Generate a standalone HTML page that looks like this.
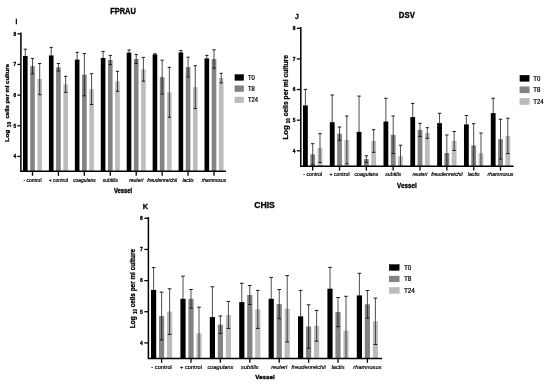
<!DOCTYPE html>
<html><head><meta charset="utf-8"><title>Figure</title>
<style>
html,body{margin:0;padding:0;background:#fff;}
body{width:550px;height:384px;overflow:hidden;}
svg{display:block;font-family:"Liberation Sans",sans-serif;}
.b{font-weight:bold;stroke:#000;stroke-width:0.3px;}
.x{fill:#000;stroke:#000;stroke-width:0.2px;}
.l{fill:#000;stroke:#000;stroke-width:0.22px;}
</style></head><body>
<svg width="550" height="384" viewBox="0 0 550 384">
<defs><filter id="bl" x="0" y="0" width="550" height="384" filterUnits="userSpaceOnUse"><feGaussianBlur stdDeviation="0.38"/></filter></defs>
<rect width="550" height="384" fill="#fff"/>
<g filter="url(#bl)">
<g>
<rect x="23.00" y="56.00" width="4.6" height="115.30" fill="#000"/>
<rect x="30.20" y="66.10" width="4.6" height="105.20" fill="#838383"/>
<rect x="37.40" y="79.10" width="4.6" height="92.20" fill="#bcbcbc"/>
<rect x="48.93" y="55.40" width="4.6" height="115.90" fill="#000"/>
<rect x="56.13" y="67.30" width="4.6" height="104.00" fill="#838383"/>
<rect x="63.33" y="84.30" width="4.6" height="87.00" fill="#bcbcbc"/>
<rect x="74.86" y="59.60" width="4.6" height="111.70" fill="#000"/>
<rect x="82.06" y="74.70" width="4.6" height="96.60" fill="#838383"/>
<rect x="89.26" y="89.10" width="4.6" height="82.20" fill="#bcbcbc"/>
<rect x="100.79" y="58.00" width="4.6" height="113.30" fill="#000"/>
<rect x="107.99" y="60.00" width="4.6" height="111.30" fill="#838383"/>
<rect x="115.19" y="81.30" width="4.6" height="90.00" fill="#bcbcbc"/>
<rect x="126.72" y="52.60" width="4.6" height="118.70" fill="#000"/>
<rect x="133.92" y="59.00" width="4.6" height="112.30" fill="#838383"/>
<rect x="141.12" y="69.30" width="4.6" height="102.00" fill="#bcbcbc"/>
<rect x="152.65" y="54.40" width="4.6" height="116.90" fill="#000"/>
<rect x="159.85" y="77.10" width="4.6" height="94.20" fill="#838383"/>
<rect x="167.05" y="92.30" width="4.6" height="79.00" fill="#bcbcbc"/>
<rect x="178.58" y="52.40" width="4.6" height="118.90" fill="#000"/>
<rect x="185.78" y="67.10" width="4.6" height="104.20" fill="#838383"/>
<rect x="192.98" y="87.10" width="4.6" height="84.20" fill="#bcbcbc"/>
<rect x="204.51" y="58.40" width="4.6" height="112.90" fill="#000"/>
<rect x="211.71" y="59.00" width="4.6" height="112.30" fill="#838383"/>
<rect x="218.91" y="78.10" width="4.6" height="93.20" fill="#bcbcbc"/>
<path d="M25.30 49.20V56.30" stroke="#1a1a1a" stroke-width="0.78" fill="none"/>
<path d="M23.69 49.20H26.91" stroke="#1a1a1a" stroke-width="1.0" fill="none"/>
<path d="M32.50 58.40V73.80" stroke="#1a1a1a" stroke-width="0.78" fill="none"/>
<path d="M30.89 58.40H34.11M30.89 73.80H34.11" stroke="#1a1a1a" stroke-width="1.0" fill="none"/>
<path d="M39.70 63.50V94.70" stroke="#1a1a1a" stroke-width="0.78" fill="none"/>
<path d="M38.09 63.50H41.31M38.09 94.70H41.31" stroke="#1a1a1a" stroke-width="1.0" fill="none"/>
<path d="M51.23 47.40V55.70" stroke="#1a1a1a" stroke-width="0.78" fill="none"/>
<path d="M49.62 47.40H52.84" stroke="#1a1a1a" stroke-width="1.0" fill="none"/>
<path d="M58.43 63.50V71.10" stroke="#1a1a1a" stroke-width="0.78" fill="none"/>
<path d="M56.82 63.50H60.04M56.82 71.10H60.04" stroke="#1a1a1a" stroke-width="1.0" fill="none"/>
<path d="M65.63 76.30V92.30" stroke="#1a1a1a" stroke-width="0.78" fill="none"/>
<path d="M64.02 76.30H67.24M64.02 92.30H67.24" stroke="#1a1a1a" stroke-width="1.0" fill="none"/>
<path d="M77.16 52.40V59.90" stroke="#1a1a1a" stroke-width="0.78" fill="none"/>
<path d="M75.55 52.40H78.77" stroke="#1a1a1a" stroke-width="1.0" fill="none"/>
<path d="M84.36 53.60V95.80" stroke="#1a1a1a" stroke-width="0.78" fill="none"/>
<path d="M82.75 53.60H85.97M82.75 95.80H85.97" stroke="#1a1a1a" stroke-width="1.0" fill="none"/>
<path d="M91.56 73.70V104.50" stroke="#1a1a1a" stroke-width="0.78" fill="none"/>
<path d="M89.95 73.70H93.17M89.95 104.50H93.17" stroke="#1a1a1a" stroke-width="1.0" fill="none"/>
<path d="M103.09 51.40V58.30" stroke="#1a1a1a" stroke-width="0.78" fill="none"/>
<path d="M101.48 51.40H104.70" stroke="#1a1a1a" stroke-width="1.0" fill="none"/>
<path d="M110.29 55.40V64.60" stroke="#1a1a1a" stroke-width="0.78" fill="none"/>
<path d="M108.68 55.40H111.90M108.68 64.60H111.90" stroke="#1a1a1a" stroke-width="1.0" fill="none"/>
<path d="M117.49 71.30V91.30" stroke="#1a1a1a" stroke-width="0.78" fill="none"/>
<path d="M115.88 71.30H119.10M115.88 91.30H119.10" stroke="#1a1a1a" stroke-width="1.0" fill="none"/>
<path d="M129.02 50.00V52.90" stroke="#1a1a1a" stroke-width="0.78" fill="none"/>
<path d="M127.41 50.00H130.63" stroke="#1a1a1a" stroke-width="1.0" fill="none"/>
<path d="M136.22 54.60V63.40" stroke="#1a1a1a" stroke-width="0.78" fill="none"/>
<path d="M134.61 54.60H137.83M134.61 63.40H137.83" stroke="#1a1a1a" stroke-width="1.0" fill="none"/>
<path d="M143.42 57.40V81.20" stroke="#1a1a1a" stroke-width="0.78" fill="none"/>
<path d="M141.81 57.40H145.03M141.81 81.20H145.03" stroke="#1a1a1a" stroke-width="1.0" fill="none"/>
<path d="M154.95 53.80V54.70" stroke="#1a1a1a" stroke-width="0.78" fill="none"/>
<path d="M153.34 53.80H156.56" stroke="#1a1a1a" stroke-width="1.0" fill="none"/>
<path d="M162.15 60.20V94.00" stroke="#1a1a1a" stroke-width="0.78" fill="none"/>
<path d="M160.54 60.20H163.76M160.54 94.00H163.76" stroke="#1a1a1a" stroke-width="1.0" fill="none"/>
<path d="M169.35 67.30V117.30" stroke="#1a1a1a" stroke-width="0.78" fill="none"/>
<path d="M167.74 67.30H170.96M167.74 117.30H170.96" stroke="#1a1a1a" stroke-width="1.0" fill="none"/>
<path d="M180.88 50.60V52.70" stroke="#1a1a1a" stroke-width="0.78" fill="none"/>
<path d="M179.27 50.60H182.49" stroke="#1a1a1a" stroke-width="1.0" fill="none"/>
<path d="M188.08 57.20V77.00" stroke="#1a1a1a" stroke-width="0.78" fill="none"/>
<path d="M186.47 57.20H189.69M186.47 77.00H189.69" stroke="#1a1a1a" stroke-width="1.0" fill="none"/>
<path d="M195.28 65.70V108.50" stroke="#1a1a1a" stroke-width="0.78" fill="none"/>
<path d="M193.67 65.70H196.89M193.67 108.50H196.89" stroke="#1a1a1a" stroke-width="1.0" fill="none"/>
<path d="M206.81 55.40V58.70" stroke="#1a1a1a" stroke-width="0.78" fill="none"/>
<path d="M205.20 55.40H208.42" stroke="#1a1a1a" stroke-width="1.0" fill="none"/>
<path d="M214.01 49.80V68.20" stroke="#1a1a1a" stroke-width="0.78" fill="none"/>
<path d="M212.40 49.80H215.62M212.40 68.20H215.62" stroke="#1a1a1a" stroke-width="1.0" fill="none"/>
<path d="M221.21 73.30V82.90" stroke="#1a1a1a" stroke-width="0.78" fill="none"/>
<path d="M219.60 73.30H222.82M219.60 82.90H222.82" stroke="#1a1a1a" stroke-width="1.0" fill="none"/>
<path d="M20.9 33.30V171.3H225.2" stroke="#000" stroke-width="1.5" fill="none" stroke-linecap="square"/>
<path d="M17.40 156.40H20.9" stroke="#000" stroke-width="1.3"/>
<text transform="translate(16.20 158.28) scale(1 1.11)" font-size="4.7" text-anchor="end" class="b">4</text>
<path d="M17.40 125.75H20.9" stroke="#000" stroke-width="1.3"/>
<text transform="translate(16.20 127.63) scale(1 1.11)" font-size="4.7" text-anchor="end" class="b">5</text>
<path d="M17.40 95.10H20.9" stroke="#000" stroke-width="1.3"/>
<text transform="translate(16.20 96.98) scale(1 1.11)" font-size="4.7" text-anchor="end" class="b">6</text>
<path d="M17.40 64.45H20.9" stroke="#000" stroke-width="1.3"/>
<text transform="translate(16.20 66.33) scale(1 1.11)" font-size="4.7" text-anchor="end" class="b">7</text>
<path d="M17.40 33.80H20.9" stroke="#000" stroke-width="1.3"/>
<text transform="translate(16.20 35.68) scale(1 1.11)" font-size="4.7" text-anchor="end" class="b">8</text>
<path d="M32.50 171.3V175.8" stroke="#000" stroke-width="1.3"/>
<text transform="translate(32.50 182.30) scale(1 1.11)" font-size="5.0" text-anchor="middle" class="x">- control</text>
<path d="M58.43 171.3V175.8" stroke="#000" stroke-width="1.3"/>
<text transform="translate(58.43 182.30) scale(1 1.11)" font-size="5.0" text-anchor="middle" class="x">+ control</text>
<path d="M84.36 171.3V175.8" stroke="#000" stroke-width="1.3"/>
<text transform="translate(84.36 182.30) scale(1 1.11)" font-size="5.0" text-anchor="middle" class="x" font-style="italic">coagulans</text>
<path d="M110.29 171.3V175.8" stroke="#000" stroke-width="1.3"/>
<text transform="translate(110.29 182.30) scale(1 1.11)" font-size="5.0" text-anchor="middle" class="x" font-style="italic">subtilis</text>
<path d="M136.22 171.3V175.8" stroke="#000" stroke-width="1.3"/>
<text transform="translate(136.22 182.30) scale(1 1.11)" font-size="5.0" text-anchor="middle" class="x" font-style="italic">reuteri</text>
<path d="M162.15 171.3V175.8" stroke="#000" stroke-width="1.3"/>
<text transform="translate(162.15 182.30) scale(1 1.11)" font-size="5.0" text-anchor="middle" class="x" font-style="italic">freudenreichii</text>
<path d="M188.08 171.3V175.8" stroke="#000" stroke-width="1.3"/>
<text transform="translate(188.08 182.30) scale(1 1.11)" font-size="5.0" text-anchor="middle" class="x" font-style="italic">lactis</text>
<path d="M214.01 171.3V175.8" stroke="#000" stroke-width="1.3"/>
<text transform="translate(214.01 182.30) scale(1 1.11)" font-size="5.0" text-anchor="middle" class="x" font-style="italic">rhamnosus</text>
<text transform="translate(123.05 192.50) scale(1 1.11)" font-size="5.85" text-anchor="middle" class="b">Vessel</text>
<text transform="translate(123.05 13.60) scale(1 1.11)" font-size="7.46" text-anchor="middle" class="b">FPRAU</text>
<text transform="translate(15.60 24.30) scale(1 1.11)" font-size="6.6" class="b">I</text>
<text transform="translate(8.60 142.00) rotate(-90) scale(1 0.9091)" font-size="6.30" class="b" textLength="12.50" lengthAdjust="spacingAndGlyphs">Log</text>
<text transform="translate(10.50 127.30) rotate(-90) scale(1 0.9091)" font-size="5.04" class="b" textLength="5.40" lengthAdjust="spacingAndGlyphs">10</text>
<text transform="translate(8.60 118.50) rotate(-90) scale(1 0.9091)" font-size="6.30" class="b" textLength="54.50" lengthAdjust="spacingAndGlyphs">cells per ml culture</text>
<rect x="234.95" y="74.65" width="8.7" height="5.6" fill="#000" stroke="#000" stroke-width="0.5"/>
<text transform="translate(248.00 79.79) scale(1 1.11)" font-size="5.85" class="l">T0</text>
<rect x="234.95" y="85.85" width="8.7" height="5.6" fill="#838383" stroke="#6e6e6e" stroke-width="0.5"/>
<text transform="translate(248.00 90.99) scale(1 1.11)" font-size="5.85" class="l">T8</text>
<rect x="234.95" y="97.05" width="8.7" height="5.6" fill="#bcbcbc" stroke="#b0b0b0" stroke-width="0.5"/>
<text transform="translate(248.00 102.19) scale(1 1.11)" font-size="5.85" class="l">T24</text>
</g>
<g>
<rect x="303.00" y="105.40" width="4.8" height="60.90" fill="#000"/>
<rect x="310.30" y="154.30" width="4.8" height="12.00" fill="#838383"/>
<rect x="317.60" y="148.10" width="4.8" height="18.20" fill="#bcbcbc"/>
<rect x="329.83" y="122.20" width="4.8" height="44.10" fill="#000"/>
<rect x="337.13" y="133.70" width="4.8" height="32.60" fill="#838383"/>
<rect x="344.43" y="139.90" width="4.8" height="26.40" fill="#bcbcbc"/>
<rect x="356.66" y="131.90" width="4.8" height="34.40" fill="#000"/>
<rect x="363.96" y="159.10" width="4.8" height="7.20" fill="#838383"/>
<rect x="371.26" y="141.00" width="4.8" height="25.30" fill="#bcbcbc"/>
<rect x="383.49" y="121.50" width="4.8" height="44.80" fill="#000"/>
<rect x="390.79" y="134.80" width="4.8" height="31.50" fill="#838383"/>
<rect x="398.09" y="156.30" width="4.8" height="10.00" fill="#bcbcbc"/>
<rect x="410.32" y="117.10" width="4.8" height="49.20" fill="#000"/>
<rect x="417.62" y="129.90" width="4.8" height="36.40" fill="#838383"/>
<rect x="424.92" y="133.00" width="4.8" height="33.30" fill="#bcbcbc"/>
<rect x="437.15" y="123.10" width="4.8" height="43.20" fill="#000"/>
<rect x="444.45" y="153.00" width="4.8" height="13.30" fill="#838383"/>
<rect x="451.75" y="141.00" width="4.8" height="25.30" fill="#bcbcbc"/>
<rect x="463.98" y="124.40" width="4.8" height="41.90" fill="#000"/>
<rect x="471.28" y="145.40" width="4.8" height="20.90" fill="#838383"/>
<rect x="478.58" y="153.20" width="4.8" height="13.10" fill="#bcbcbc"/>
<rect x="490.81" y="113.10" width="4.8" height="53.20" fill="#000"/>
<rect x="498.11" y="139.20" width="4.8" height="27.10" fill="#838383"/>
<rect x="505.41" y="135.90" width="4.8" height="30.40" fill="#bcbcbc"/>
<path d="M305.40 89.40V105.70" stroke="#1a1a1a" stroke-width="0.78" fill="none"/>
<path d="M303.72 89.40H307.08" stroke="#1a1a1a" stroke-width="1.0" fill="none"/>
<path d="M312.70 143.70V164.90" stroke="#1a1a1a" stroke-width="0.78" fill="none"/>
<path d="M311.02 143.70H314.38M311.02 164.90H314.38" stroke="#1a1a1a" stroke-width="1.0" fill="none"/>
<path d="M320.00 133.70V162.50" stroke="#1a1a1a" stroke-width="0.78" fill="none"/>
<path d="M318.32 133.70H321.68M318.32 162.50H321.68" stroke="#1a1a1a" stroke-width="1.0" fill="none"/>
<path d="M332.23 95.00V122.50" stroke="#1a1a1a" stroke-width="0.78" fill="none"/>
<path d="M330.55 95.00H333.91" stroke="#1a1a1a" stroke-width="1.0" fill="none"/>
<path d="M339.53 127.00V140.40" stroke="#1a1a1a" stroke-width="0.78" fill="none"/>
<path d="M337.85 127.00H341.21M337.85 140.40H341.21" stroke="#1a1a1a" stroke-width="1.0" fill="none"/>
<path d="M346.83 116.00V163.80" stroke="#1a1a1a" stroke-width="0.78" fill="none"/>
<path d="M345.15 116.00H348.51M345.15 163.80H348.51" stroke="#1a1a1a" stroke-width="1.0" fill="none"/>
<path d="M359.06 96.10V132.20" stroke="#1a1a1a" stroke-width="0.78" fill="none"/>
<path d="M357.38 96.10H360.74" stroke="#1a1a1a" stroke-width="1.0" fill="none"/>
<path d="M366.36 155.80V162.40" stroke="#1a1a1a" stroke-width="0.78" fill="none"/>
<path d="M364.68 155.80H368.04M364.68 162.40H368.04" stroke="#1a1a1a" stroke-width="1.0" fill="none"/>
<path d="M373.66 129.70V152.30" stroke="#1a1a1a" stroke-width="0.78" fill="none"/>
<path d="M371.98 129.70H375.34M371.98 152.30H375.34" stroke="#1a1a1a" stroke-width="1.0" fill="none"/>
<path d="M385.89 98.30V121.80" stroke="#1a1a1a" stroke-width="0.78" fill="none"/>
<path d="M384.21 98.30H387.57" stroke="#1a1a1a" stroke-width="1.0" fill="none"/>
<path d="M393.19 116.00V153.60" stroke="#1a1a1a" stroke-width="0.78" fill="none"/>
<path d="M391.51 116.00H394.87M391.51 153.60H394.87" stroke="#1a1a1a" stroke-width="1.0" fill="none"/>
<path d="M400.49 145.20V166.30" stroke="#1a1a1a" stroke-width="0.78" fill="none"/>
<path d="M398.81 145.20H402.17" stroke="#1a1a1a" stroke-width="1.0" fill="none"/>
<path d="M412.72 103.40V117.40" stroke="#1a1a1a" stroke-width="0.78" fill="none"/>
<path d="M411.04 103.40H414.40" stroke="#1a1a1a" stroke-width="1.0" fill="none"/>
<path d="M420.02 123.30V136.50" stroke="#1a1a1a" stroke-width="0.78" fill="none"/>
<path d="M418.34 123.30H421.70M418.34 136.50H421.70" stroke="#1a1a1a" stroke-width="1.0" fill="none"/>
<path d="M427.32 127.70V138.30" stroke="#1a1a1a" stroke-width="0.78" fill="none"/>
<path d="M425.64 127.70H429.00M425.64 138.30H429.00" stroke="#1a1a1a" stroke-width="1.0" fill="none"/>
<path d="M439.55 113.30V123.40" stroke="#1a1a1a" stroke-width="0.78" fill="none"/>
<path d="M437.87 113.30H441.23" stroke="#1a1a1a" stroke-width="1.0" fill="none"/>
<path d="M446.85 135.00V166.30" stroke="#1a1a1a" stroke-width="0.78" fill="none"/>
<path d="M445.17 135.00H448.53" stroke="#1a1a1a" stroke-width="1.0" fill="none"/>
<path d="M454.15 131.50V150.50" stroke="#1a1a1a" stroke-width="0.78" fill="none"/>
<path d="M452.47 131.50H455.83M452.47 150.50H455.83" stroke="#1a1a1a" stroke-width="1.0" fill="none"/>
<path d="M466.38 115.50V124.70" stroke="#1a1a1a" stroke-width="0.78" fill="none"/>
<path d="M464.70 115.50H468.06" stroke="#1a1a1a" stroke-width="1.0" fill="none"/>
<path d="M473.68 123.70V166.30" stroke="#1a1a1a" stroke-width="0.78" fill="none"/>
<path d="M472.00 123.70H475.36" stroke="#1a1a1a" stroke-width="1.0" fill="none"/>
<path d="M480.98 133.00V166.30" stroke="#1a1a1a" stroke-width="0.78" fill="none"/>
<path d="M479.30 133.00H482.66" stroke="#1a1a1a" stroke-width="1.0" fill="none"/>
<path d="M493.21 98.30V113.40" stroke="#1a1a1a" stroke-width="0.78" fill="none"/>
<path d="M491.53 98.30H494.89" stroke="#1a1a1a" stroke-width="1.0" fill="none"/>
<path d="M500.51 119.30V159.10" stroke="#1a1a1a" stroke-width="0.78" fill="none"/>
<path d="M498.83 119.30H502.19M498.83 159.10H502.19" stroke="#1a1a1a" stroke-width="1.0" fill="none"/>
<path d="M507.81 118.20V153.60" stroke="#1a1a1a" stroke-width="0.78" fill="none"/>
<path d="M506.13 118.20H509.49M506.13 153.60H509.49" stroke="#1a1a1a" stroke-width="1.0" fill="none"/>
<path d="M300.8 27.80V166.3H512.9" stroke="#000" stroke-width="1.5" fill="none" stroke-linecap="square"/>
<path d="M296.80 150.78H300.8" stroke="#000" stroke-width="1.3"/>
<text transform="translate(295.30 152.64) scale(1 1.076)" font-size="4.8" text-anchor="end" class="b">4</text>
<path d="M296.80 120.16H300.8" stroke="#000" stroke-width="1.3"/>
<text transform="translate(295.30 122.02) scale(1 1.076)" font-size="4.8" text-anchor="end" class="b">5</text>
<path d="M296.80 89.54H300.8" stroke="#000" stroke-width="1.3"/>
<text transform="translate(295.30 91.40) scale(1 1.076)" font-size="4.8" text-anchor="end" class="b">6</text>
<path d="M296.80 58.92H300.8" stroke="#000" stroke-width="1.3"/>
<text transform="translate(295.30 60.78) scale(1 1.076)" font-size="4.8" text-anchor="end" class="b">7</text>
<path d="M296.80 28.30H300.8" stroke="#000" stroke-width="1.3"/>
<text transform="translate(295.30 30.16) scale(1 1.076)" font-size="4.8" text-anchor="end" class="b">8</text>
<path d="M312.70 166.3V170.6" stroke="#000" stroke-width="1.3"/>
<text transform="translate(312.70 176.30) scale(1 1.076)" font-size="5.25" text-anchor="middle" class="x">- control</text>
<path d="M339.53 166.3V170.6" stroke="#000" stroke-width="1.3"/>
<text transform="translate(339.53 176.30) scale(1 1.076)" font-size="5.25" text-anchor="middle" class="x">+ control</text>
<path d="M366.36 166.3V170.6" stroke="#000" stroke-width="1.3"/>
<text transform="translate(366.36 176.30) scale(1 1.076)" font-size="5.25" text-anchor="middle" class="x" font-style="italic">coagulans</text>
<path d="M393.19 166.3V170.6" stroke="#000" stroke-width="1.3"/>
<text transform="translate(393.19 176.30) scale(1 1.076)" font-size="5.25" text-anchor="middle" class="x" font-style="italic">subtilis</text>
<path d="M420.02 166.3V170.6" stroke="#000" stroke-width="1.3"/>
<text transform="translate(420.02 176.30) scale(1 1.076)" font-size="5.25" text-anchor="middle" class="x" font-style="italic">reuteri</text>
<path d="M446.85 166.3V170.6" stroke="#000" stroke-width="1.3"/>
<text transform="translate(446.85 176.30) scale(1 1.076)" font-size="5.25" text-anchor="middle" class="x" font-style="italic">freudenreichii</text>
<path d="M473.68 166.3V170.6" stroke="#000" stroke-width="1.3"/>
<text transform="translate(473.68 176.30) scale(1 1.076)" font-size="5.25" text-anchor="middle" class="x" font-style="italic">lactis</text>
<path d="M500.51 166.3V170.6" stroke="#000" stroke-width="1.3"/>
<text transform="translate(500.51 176.30) scale(1 1.076)" font-size="5.25" text-anchor="middle" class="x" font-style="italic">rhamnosus</text>
<text transform="translate(406.85 187.70) scale(1 1.076)" font-size="6.3" text-anchor="middle" class="b">Vessel</text>
<text transform="translate(406.85 18.00) scale(1 1.076)" font-size="7.8" text-anchor="middle" class="b">DSV</text>
<text transform="translate(295.00 19.30) scale(1 1.076)" font-size="6.8" class="b">J</text>
<text transform="translate(287.80 139.40) rotate(-90) scale(1 0.9259)" font-size="6.90" class="b" textLength="14.10" lengthAdjust="spacingAndGlyphs">Log</text>
<text transform="translate(289.60 123.30) rotate(-90) scale(1 0.9259)" font-size="5.52" class="b" textLength="5.00" lengthAdjust="spacingAndGlyphs">10</text>
<text transform="translate(287.80 116.20) rotate(-90) scale(1 0.9259)" font-size="6.90" class="b" textLength="61.10" lengthAdjust="spacingAndGlyphs">cells per ml culture</text>
<rect x="519.95" y="75.25" width="9.2" height="6.0" fill="#000" stroke="#000" stroke-width="0.5"/>
<text transform="translate(533.20 80.59) scale(1 1.076)" font-size="6.05" class="l">T0</text>
<rect x="519.95" y="86.85" width="9.2" height="6.0" fill="#838383" stroke="#6e6e6e" stroke-width="0.5"/>
<text transform="translate(533.20 92.19) scale(1 1.076)" font-size="6.05" class="l">T8</text>
<rect x="519.95" y="98.45" width="9.2" height="6.0" fill="#bcbcbc" stroke="#b0b0b0" stroke-width="0.5"/>
<text transform="translate(533.20 103.79) scale(1 1.076)" font-size="6.05" class="l">T24</text>
</g>
<g>
<rect x="151.00" y="289.90" width="5.2" height="68.70" fill="#000"/>
<rect x="159.00" y="316.00" width="5.2" height="42.60" fill="#838383"/>
<rect x="167.00" y="311.60" width="5.2" height="47.00" fill="#bcbcbc"/>
<rect x="180.40" y="298.80" width="5.2" height="59.80" fill="#000"/>
<rect x="188.40" y="298.80" width="5.2" height="59.80" fill="#838383"/>
<rect x="196.40" y="333.30" width="5.2" height="25.30" fill="#bcbcbc"/>
<rect x="209.80" y="317.10" width="5.2" height="41.50" fill="#000"/>
<rect x="217.80" y="324.70" width="5.2" height="33.90" fill="#838383"/>
<rect x="225.80" y="314.90" width="5.2" height="43.70" fill="#bcbcbc"/>
<rect x="239.20" y="302.10" width="5.2" height="56.50" fill="#000"/>
<rect x="247.20" y="295.00" width="5.2" height="63.60" fill="#838383"/>
<rect x="255.20" y="309.40" width="5.2" height="49.20" fill="#bcbcbc"/>
<rect x="268.60" y="298.80" width="5.2" height="59.80" fill="#000"/>
<rect x="276.60" y="304.10" width="5.2" height="54.50" fill="#838383"/>
<rect x="284.60" y="308.80" width="5.2" height="49.80" fill="#bcbcbc"/>
<rect x="298.00" y="316.30" width="5.2" height="42.30" fill="#000"/>
<rect x="306.00" y="326.50" width="5.2" height="32.10" fill="#838383"/>
<rect x="314.00" y="325.80" width="5.2" height="32.80" fill="#bcbcbc"/>
<rect x="327.40" y="288.70" width="5.2" height="69.90" fill="#000"/>
<rect x="335.40" y="312.10" width="5.2" height="46.50" fill="#838383"/>
<rect x="343.40" y="330.70" width="5.2" height="27.90" fill="#bcbcbc"/>
<rect x="356.80" y="295.40" width="5.2" height="63.20" fill="#000"/>
<rect x="364.80" y="304.30" width="5.2" height="54.30" fill="#838383"/>
<rect x="372.80" y="321.30" width="5.2" height="37.30" fill="#bcbcbc"/>
<path d="M153.60 267.50V290.20" stroke="#1a1a1a" stroke-width="0.78" fill="none"/>
<path d="M151.78 267.50H155.42" stroke="#1a1a1a" stroke-width="1.0" fill="none"/>
<path d="M161.60 292.10V339.90" stroke="#1a1a1a" stroke-width="0.78" fill="none"/>
<path d="M159.78 292.10H163.42M159.78 339.90H163.42" stroke="#1a1a1a" stroke-width="1.0" fill="none"/>
<path d="M169.60 288.80V334.40" stroke="#1a1a1a" stroke-width="0.78" fill="none"/>
<path d="M167.78 288.80H171.42M167.78 334.40H171.42" stroke="#1a1a1a" stroke-width="1.0" fill="none"/>
<path d="M183.00 276.20V299.10" stroke="#1a1a1a" stroke-width="0.78" fill="none"/>
<path d="M181.18 276.20H184.82" stroke="#1a1a1a" stroke-width="1.0" fill="none"/>
<path d="M191.00 289.50V308.10" stroke="#1a1a1a" stroke-width="0.78" fill="none"/>
<path d="M189.18 289.50H192.82M189.18 308.10H192.82" stroke="#1a1a1a" stroke-width="1.0" fill="none"/>
<path d="M199.00 307.20V358.60" stroke="#1a1a1a" stroke-width="0.78" fill="none"/>
<path d="M197.18 307.20H200.82" stroke="#1a1a1a" stroke-width="1.0" fill="none"/>
<path d="M212.40 286.80V317.40" stroke="#1a1a1a" stroke-width="0.78" fill="none"/>
<path d="M210.58 286.80H214.22" stroke="#1a1a1a" stroke-width="1.0" fill="none"/>
<path d="M220.40 316.00V333.40" stroke="#1a1a1a" stroke-width="0.78" fill="none"/>
<path d="M218.58 316.00H222.22M218.58 333.40H222.22" stroke="#1a1a1a" stroke-width="1.0" fill="none"/>
<path d="M228.40 301.40V328.40" stroke="#1a1a1a" stroke-width="0.78" fill="none"/>
<path d="M226.58 301.40H230.22M226.58 328.40H230.22" stroke="#1a1a1a" stroke-width="1.0" fill="none"/>
<path d="M241.80 283.30V302.40" stroke="#1a1a1a" stroke-width="0.78" fill="none"/>
<path d="M239.98 283.30H243.62" stroke="#1a1a1a" stroke-width="1.0" fill="none"/>
<path d="M249.80 285.50V304.50" stroke="#1a1a1a" stroke-width="0.78" fill="none"/>
<path d="M247.98 285.50H251.62M247.98 304.50H251.62" stroke="#1a1a1a" stroke-width="1.0" fill="none"/>
<path d="M257.80 290.40V328.40" stroke="#1a1a1a" stroke-width="0.78" fill="none"/>
<path d="M255.98 290.40H259.62M255.98 328.40H259.62" stroke="#1a1a1a" stroke-width="1.0" fill="none"/>
<path d="M271.20 277.40V299.10" stroke="#1a1a1a" stroke-width="0.78" fill="none"/>
<path d="M269.38 277.40H273.02" stroke="#1a1a1a" stroke-width="1.0" fill="none"/>
<path d="M279.20 289.50V318.70" stroke="#1a1a1a" stroke-width="0.78" fill="none"/>
<path d="M277.38 289.50H281.02M277.38 318.70H281.02" stroke="#1a1a1a" stroke-width="1.0" fill="none"/>
<path d="M287.20 275.60V342.00" stroke="#1a1a1a" stroke-width="0.78" fill="none"/>
<path d="M285.38 275.60H289.02M285.38 342.00H289.02" stroke="#1a1a1a" stroke-width="1.0" fill="none"/>
<path d="M300.60 290.40V316.60" stroke="#1a1a1a" stroke-width="0.78" fill="none"/>
<path d="M298.78 290.40H302.42" stroke="#1a1a1a" stroke-width="1.0" fill="none"/>
<path d="M308.60 304.80V348.20" stroke="#1a1a1a" stroke-width="0.78" fill="none"/>
<path d="M306.78 304.80H310.42M306.78 348.20H310.42" stroke="#1a1a1a" stroke-width="1.0" fill="none"/>
<path d="M316.60 310.40V341.20" stroke="#1a1a1a" stroke-width="0.78" fill="none"/>
<path d="M314.78 310.40H318.42M314.78 341.20H318.42" stroke="#1a1a1a" stroke-width="1.0" fill="none"/>
<path d="M330.00 267.40V289.00" stroke="#1a1a1a" stroke-width="0.78" fill="none"/>
<path d="M328.18 267.40H331.82" stroke="#1a1a1a" stroke-width="1.0" fill="none"/>
<path d="M338.00 297.50V326.70" stroke="#1a1a1a" stroke-width="0.78" fill="none"/>
<path d="M336.18 297.50H339.82M336.18 326.70H339.82" stroke="#1a1a1a" stroke-width="1.0" fill="none"/>
<path d="M346.00 296.30V358.60" stroke="#1a1a1a" stroke-width="0.78" fill="none"/>
<path d="M344.18 296.30H347.82" stroke="#1a1a1a" stroke-width="1.0" fill="none"/>
<path d="M359.40 273.30V295.70" stroke="#1a1a1a" stroke-width="0.78" fill="none"/>
<path d="M357.58 273.30H361.22" stroke="#1a1a1a" stroke-width="1.0" fill="none"/>
<path d="M367.40 290.50V318.10" stroke="#1a1a1a" stroke-width="0.78" fill="none"/>
<path d="M365.58 290.50H369.22M365.58 318.10H369.22" stroke="#1a1a1a" stroke-width="1.0" fill="none"/>
<path d="M375.40 298.10V344.50" stroke="#1a1a1a" stroke-width="0.78" fill="none"/>
<path d="M373.58 298.10H377.22M373.58 344.50H377.22" stroke="#1a1a1a" stroke-width="1.0" fill="none"/>
<path d="M148.4 217.80V358.6H381.4" stroke="#000" stroke-width="1.5" fill="none" stroke-linecap="square"/>
<path d="M144.30 342.90H148.4" stroke="#000" stroke-width="1.3"/>
<text transform="translate(142.90 344.70) scale(1 1.0)" font-size="5.0" text-anchor="end" class="b">4</text>
<path d="M144.30 311.75H148.4" stroke="#000" stroke-width="1.3"/>
<text transform="translate(142.90 313.55) scale(1 1.0)" font-size="5.0" text-anchor="end" class="b">5</text>
<path d="M144.30 280.60H148.4" stroke="#000" stroke-width="1.3"/>
<text transform="translate(142.90 282.40) scale(1 1.0)" font-size="5.0" text-anchor="end" class="b">6</text>
<path d="M144.30 249.45H148.4" stroke="#000" stroke-width="1.3"/>
<text transform="translate(142.90 251.25) scale(1 1.0)" font-size="5.0" text-anchor="end" class="b">7</text>
<path d="M144.30 218.30H148.4" stroke="#000" stroke-width="1.3"/>
<text transform="translate(142.90 220.10) scale(1 1.0)" font-size="5.0" text-anchor="end" class="b">8</text>
<path d="M161.60 358.6V362.7" stroke="#000" stroke-width="1.3"/>
<text transform="translate(161.60 369.00) scale(1 1.0)" font-size="5.7" text-anchor="middle" class="x">- control</text>
<path d="M191.00 358.6V362.7" stroke="#000" stroke-width="1.3"/>
<text transform="translate(191.00 369.00) scale(1 1.0)" font-size="5.7" text-anchor="middle" class="x">+ control</text>
<path d="M220.40 358.6V362.7" stroke="#000" stroke-width="1.3"/>
<text transform="translate(220.40 369.00) scale(1 1.0)" font-size="5.7" text-anchor="middle" class="x" font-style="italic">coagulans</text>
<path d="M249.80 358.6V362.7" stroke="#000" stroke-width="1.3"/>
<text transform="translate(249.80 369.00) scale(1 1.0)" font-size="5.7" text-anchor="middle" class="x" font-style="italic">subtilis</text>
<path d="M279.20 358.6V362.7" stroke="#000" stroke-width="1.3"/>
<text transform="translate(279.20 369.00) scale(1 1.0)" font-size="5.7" text-anchor="middle" class="x" font-style="italic">reuteri</text>
<path d="M308.60 358.6V362.7" stroke="#000" stroke-width="1.3"/>
<text transform="translate(308.60 369.00) scale(1 1.0)" font-size="5.7" text-anchor="middle" class="x" font-style="italic">freudenreichii</text>
<path d="M338.00 358.6V362.7" stroke="#000" stroke-width="1.3"/>
<text transform="translate(338.00 369.00) scale(1 1.0)" font-size="5.7" text-anchor="middle" class="x" font-style="italic">lactis</text>
<path d="M367.40 358.6V362.7" stroke="#000" stroke-width="1.3"/>
<text transform="translate(367.40 369.00) scale(1 1.0)" font-size="5.7" text-anchor="middle" class="x" font-style="italic">rhamnosus</text>
<text transform="translate(264.90 379.00) scale(1 1.0)" font-size="6.25" text-anchor="middle" class="b">Vessel</text>
<text transform="translate(264.50 207.70) scale(1 1.0)" font-size="8.7" text-anchor="middle" class="b">CHIS</text>
<text transform="translate(142.70 209.00) scale(1 1.0)" font-size="7.4" class="b">K</text>
<text transform="translate(134.70 328.30) rotate(-90) scale(1 1.0000)" font-size="6.50" class="b" textLength="12.20" lengthAdjust="spacingAndGlyphs">Log</text>
<text transform="translate(136.60 314.10) rotate(-90) scale(1 1.0000)" font-size="5.20" class="b" textLength="5.00" lengthAdjust="spacingAndGlyphs">10</text>
<text transform="translate(134.70 307.30) rotate(-90) scale(1 1.0000)" font-size="6.50" class="b" textLength="58.30" lengthAdjust="spacingAndGlyphs">cells per ml culture</text>
<rect x="389.25" y="264.65" width="9.9" height="5.7" fill="#000" stroke="#000" stroke-width="0.5"/>
<text transform="translate(403.90 269.80) scale(1 1.0)" font-size="6.4" class="l">T0</text>
<rect x="389.25" y="276.10" width="9.9" height="5.7" fill="#838383" stroke="#6e6e6e" stroke-width="0.5"/>
<text transform="translate(403.90 281.25) scale(1 1.0)" font-size="6.4" class="l">T8</text>
<rect x="389.25" y="287.55" width="9.9" height="5.7" fill="#bcbcbc" stroke="#b0b0b0" stroke-width="0.5"/>
<text transform="translate(403.90 292.70) scale(1 1.0)" font-size="6.4" class="l">T24</text>
</g>
</g>
</svg>
</body></html>
